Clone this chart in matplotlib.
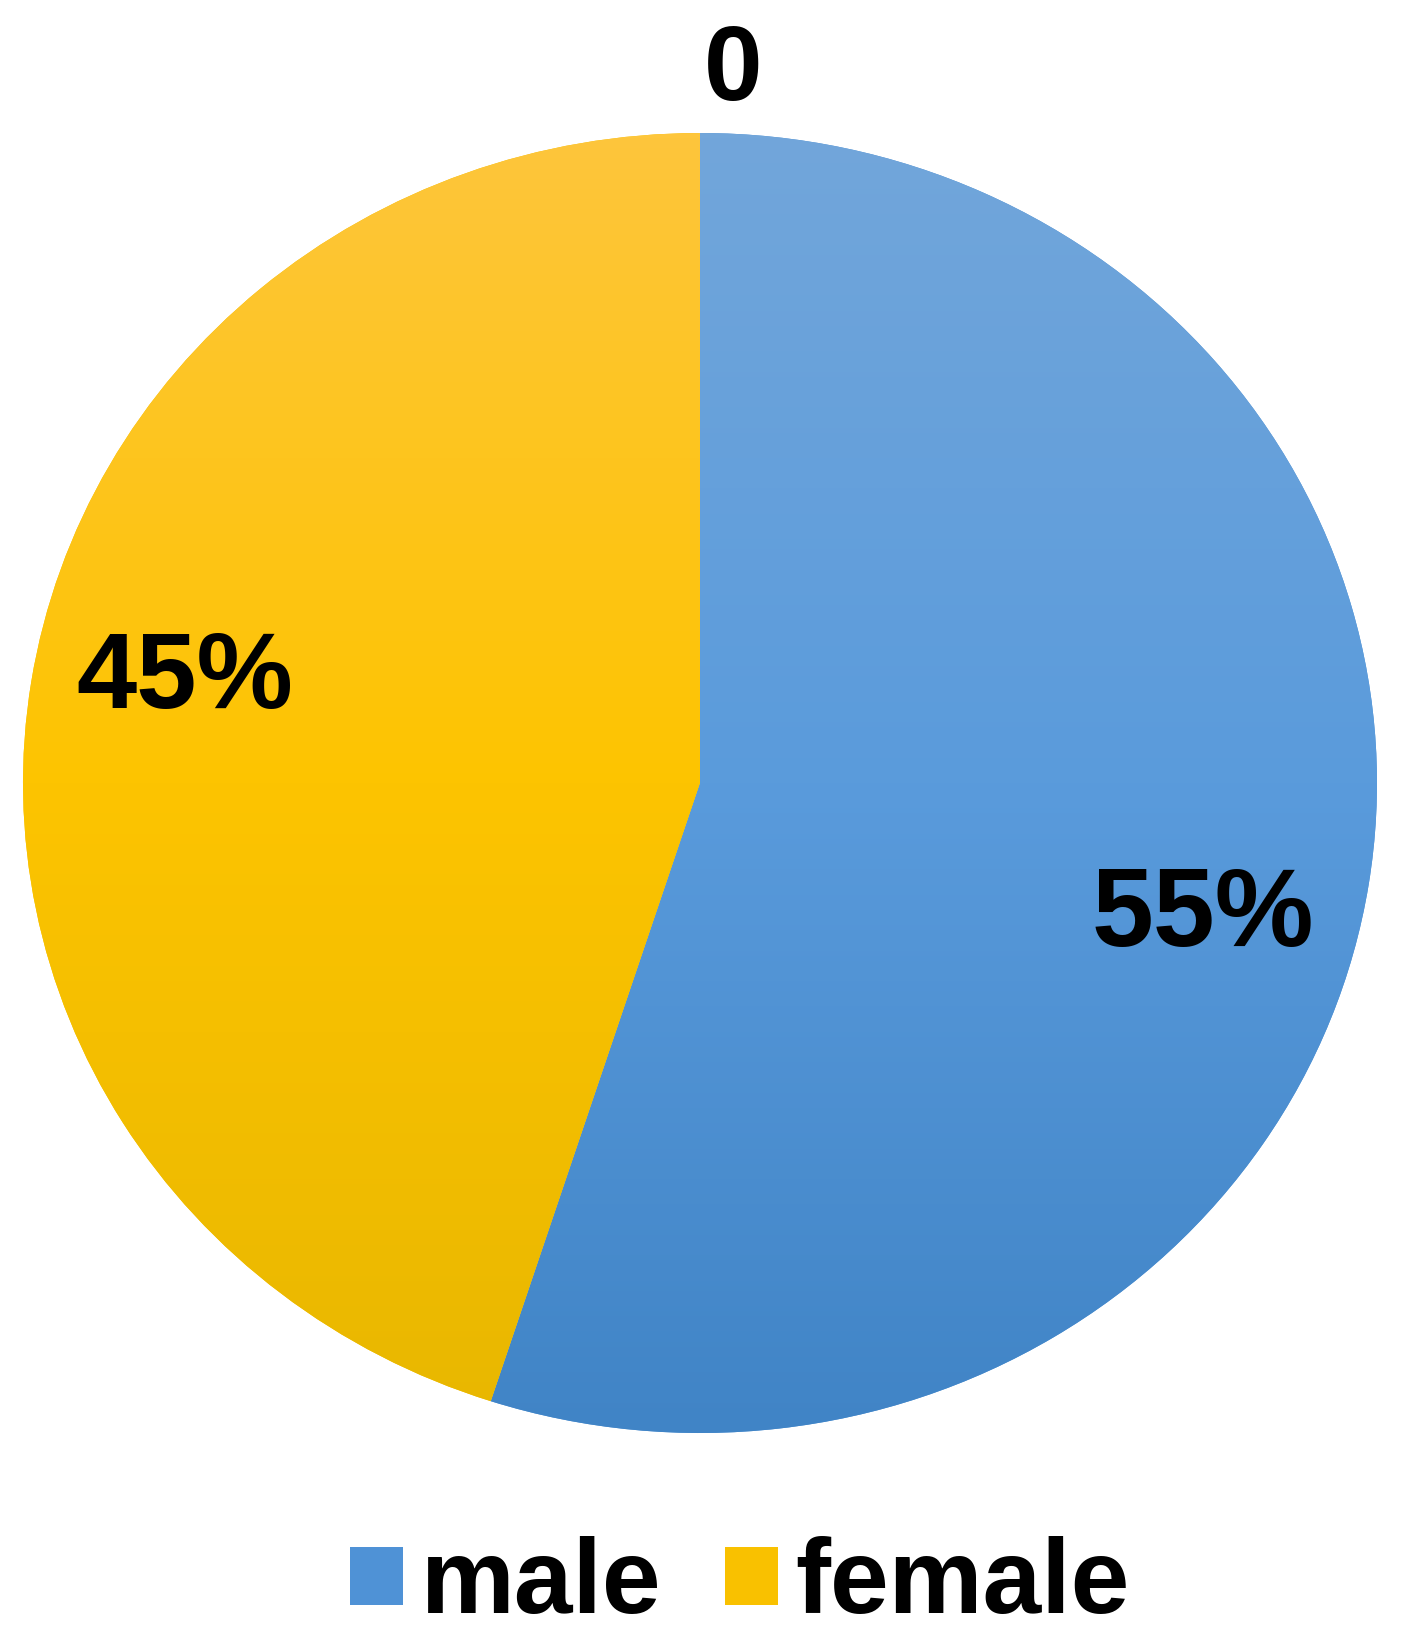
import numpy as np
import matplotlib
matplotlib.use("Agg")
import matplotlib.pyplot as plt
from matplotlib.colors import LinearSegmentedColormap
from matplotlib.patches import Patch

# data
labels = ["male", "female"]
shares = [55, 45]
title = "0"

# gradient colours per slice (top -> bottom)
grad = {
    "male": ["#72a6da", "#5a9bdc", "#4084c6"],
    "female": ["#fec63c", "#fdc400", "#e8b700"],
}
legend_col = {"male": "#4f92d6", "female": "#f9c100"}

W, H = 1401, 1645
fig = plt.figure(figsize=(W / 100, H / 100), dpi=100)
plt.rcParams["font.family"] = ["Liberation Sans", "DejaVu Sans"]

# pie bounding box in pixels (slightly stretched ellipse)
cx, cy, rx, ry = 700, 783, 677, 650
ax = fig.add_axes([(cx - rx) / W, (H - cy - ry) / H, 2 * rx / W, 2 * ry / H])

wedges, _ = ax.pie(shares, startangle=90, counterclock=False, radius=1,
                   colors=[legend_col[l] for l in labels],
                   wedgeprops=dict(linewidth=0))
ax.set_aspect("auto")
ax.set_xlim(-1, 1)
ax.set_ylim(-1, 1)
ax.axis("off")

# vertical gradient fill, light at top, clipped to each wedge
g = np.linspace(0, 1, 256).reshape(-1, 1)
for w, lab in zip(wedges, labels):
    cmap = LinearSegmentedColormap.from_list(lab, grad[lab])
    im = ax.imshow(g, cmap=cmap, extent=(-1, 1, -1, 1), aspect="auto",
                   origin="upper", zorder=2)
    im.set_clip_path(w)

# percentage labels
ax.text((1203 - cx) / rx, (cy - 946) / ry, f"{shares[0]}%", ha="center",
        va="baseline", fontsize=80, fontweight="bold", color="black", zorder=5)
ax.text((185 - cx) / rx, (cy - 708) / ry, f"{shares[1]}%", ha="center",
        va="baseline", fontsize=78, fontweight="bold", color="black", zorder=5)

fig.text(733 / W, 1 - 100 / H, title, ha="center", va="baseline",
         fontsize=76, fontweight="bold")

handles = [Patch(facecolor=legend_col[l], edgecolor="none") for l in labels]
leg = fig.legend(handles, labels, loc="center", bbox_to_anchor=(740 / W, 1 - 1586 / H),
                 ncol=2, frameon=False, handlelength=0.5, handleheight=0.48,
                 handletextpad=0.17, columnspacing=0.6,
                 prop=dict(size=76, weight="bold"))

fig.savefig("out.png", dpi=100, facecolor="white")
